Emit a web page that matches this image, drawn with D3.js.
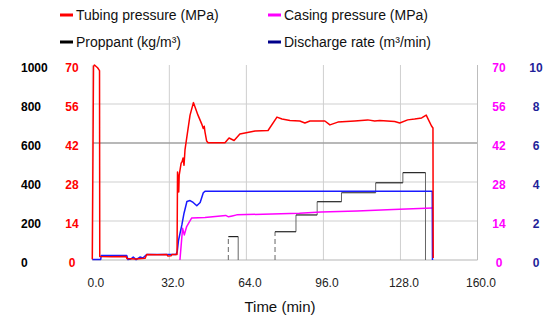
<!DOCTYPE html>
<html>
<head>
<meta charset="utf-8">
<style>
  body { margin: 0; background: #fff; }
  svg { font-family: 'Liberation Sans', Arial, sans-serif; }
</style>
</head>
<body>
<script src="https://d3js.org/d3.v7.min.js"></script>
<script>
// time (min) and tubing pressure (MPa)
const tubingT = [0, 0.5, 0.9, 2.2, 3.0, 3.1, 8, 14.0, 14.4, 18, 21.9, 22.6, 27, 30.9, 31.4, 32.7, 33.1, 35.2,
  35.4, 35.9, 36.1, 36.9, 37.3, 37.7, 38.1, 38.5, 39.4, 40.6, 42.0, 43.9, 45.6, 46.1, 46.5, 46.8, 47.5, 48.1,
  55.1, 56.8, 58.9, 61.3, 67.6, 73.0, 76.7, 78.8, 82.1, 86.2, 88.3, 90.4, 96.6, 98.7, 102.0, 109.0, 114.4,
  117.3, 119.4, 125.6, 127.7, 131.0, 133.9, 136.8, 138.7, 139.5, 140.9, 141.5, 141.6];
const tubingV = [0.3, 69.5, 70, 69, 68, 1.3, 1.2, 1.3, 0.5, 0.4, 0.6, 2.0, 1.9, 2.0, 1.4, 1.5, 2.0, 2.0,
  31.6, 24.4, 30.5, 34.8, 35.3, 36.6, 34, 39.5, 44.9, 52, 56.5, 52, 48.5, 47.2, 48.0, 46, 42.7, 42.1,
  42.1, 43.8, 42.9, 45.2, 46.3, 46.5, 51.3, 50.6, 50.1, 49.9, 49.2, 49.9, 49.9, 48.5, 49.5, 49.9, 50.3,
  49.9, 50.1, 49.7, 49.2, 50.3, 50.6, 51, 52, 50.6, 48.1, 47.4, 0.7];

// casing pressure (MPa)
const casingT = [36.4, 37.5, 38.2, 39.2, 40.2, 41.3, 46.8, 55.4, 56.6, 58.1, 60, 86, 95, 110, 125, 141.3];
const casingV = [0, 11.4, 9.0, 12.0, 13.5, 15.1, 15.3, 16.0, 15.5, 15.8, 16.2, 16.8, 17.2, 17.6, 18.1, 18.7];

// discharge rate (m3/min)
const rateT = [0, 3.5, 3.7, 14.3, 14.8, 16.0, 17.0, 18.2, 19.8, 21.0, 22.6, 34.8, 35.3, 35.8, 37.2, 38.1,
  39.3, 40.6, 41.9, 43.4, 44.8, 46.1, 46.8, 141.2, 141.3];
const rateV = [0.03, 0.03, 0.23, 0.23, 0.03, 0.05, 0.15, 0.02, 0.15, 0.1, 0.28, 0.28, 0.45, 1.0, 1.8, 2.4,
  3.0, 3.05, 2.95, 2.78, 2.95, 3.45, 3.52, 3.52, 0];

// proppant concentration steps (kg/m3)
const propStart = [56.5, 75.9, 84.6, 93.4, 103.5, 117.7, 129.0];
const propEnd = [60.6, 84.6, 93.4, 103.5, 117.7, 129.0, 138.4];
const propLevel = [120, 145, 231, 299, 345, 396, 448];

const xTicks = [0, 32, 64, 96, 128, 160];
const propTicks = [0, 200, 400, 600, 800, 1000];
const pressTicks = [0, 14, 28, 42, 56, 70];
const rateTicks = [0, 2, 4, 6, 8, 10];

const legendItems = [
  { name: 'Tubing pressure (MPa)', color: '#ff0000' },
  { name: 'Casing pressure (MPa)', color: '#ff00ff' },
  { name: 'Proppant (kg/m³)', color: '#000000' },
  { name: 'Discharge rate (m³/min)', color: '#00008b' }
];

const width = 552, height = 323;
const svg = d3.select('body').append('svg')
  .attr('width', width)
  .attr('height', height);

const x = d3.scaleLinear().domain([0, 160]).range([92.3, 477.5]);
const yProp = d3.scaleLinear().domain([0, 1000]).range([260, 65]);
const yPress = d3.scaleLinear().domain([0, 70]).range([260, 65]);
const yRate = d3.scaleLinear().domain([0, 10]).range([260, 65]);

// grid
const grid = svg.append('g');
grid.selectAll('.vgrid')
  .data(xTicks.slice(1, -1))
  .join('line')
  .attr('x1', d => x(d)).attr('x2', d => x(d))
  .attr('y1', yProp(1000)).attr('y2', yProp(0))
  .attr('stroke', '#cfcfcf');
grid.selectAll('.hgrid')
  .data(propTicks.slice(1, -1))
  .join('line')
  .attr('x1', x(0)).attr('x2', x(160))
  .attr('y1', d => yProp(d)).attr('y2', d => yProp(d))
  .attr('stroke', d => d === 600 ? '#a0a0a0' : '#cfcfcf')
  .attr('stroke-width', d => d === 600 ? 1.6 : 1);
grid.append('line')
  .attr('x1', x(0)).attr('x2', x(0))
  .attr('y1', yProp(1000)).attr('y2', yProp(0))
  .attr('stroke', '#d6d6d6');
grid.append('line')
  .attr('x1', x(160)).attr('x2', x(160))
  .attr('y1', yProp(1000)).attr('y2', yProp(0))
  .attr('stroke', '#bdbdbd');
grid.append('line')
  .attr('x1', x(0)).attr('x2', x(160))
  .attr('y1', yProp(0)).attr('y2', yProp(0))
  .attr('stroke', '#b5b5b5');

// proppant steps
const horiz = [], vert = [];
propStart.forEach((s, i) => {
  const prevLevel = (i > 0 && propEnd[i - 1] === s) ? propLevel[i - 1] : 0;
  vert.push({ t: s, a: prevLevel, b: propLevel[i] });
  horiz.push({ t0: s, t1: propEnd[i], v: propLevel[i] });
  if (i === propStart.length - 1 || propStart[i + 1] !== propEnd[i]) {
    vert.push({ t: propEnd[i], a: propLevel[i], b: 0 });
  }
});
svg.append('g').selectAll('line')
  .data(vert)
  .join('line')
  .attr('x1', d => x(d.t)).attr('x2', d => x(d.t))
  .attr('y1', d => yProp(d.a)).attr('y2', d => yProp(d.b))
  .attr('stroke', '#666')
  .attr('stroke-width', 1)
  .attr('stroke-dasharray', d => d.a === 0 ? '5,3' : null);
svg.append('g').selectAll('line')
  .data(horiz)
  .join('line')
  .attr('x1', d => x(d.t0)).attr('x2', d => x(d.t1))
  .attr('y1', d => yProp(d.v)).attr('y2', d => yProp(d.v))
  .attr('stroke', '#222')
  .attr('stroke-width', 1.2);

function drawSeries(ts, vs, yScale, color) {
  const pts = ts.map((t, i) => [t, vs[i]]);
  svg.append('path')
    .datum(pts)
    .attr('fill', 'none')
    .attr('stroke', color)
    .attr('stroke-width', 1.5)
    .attr('stroke-linejoin', 'round')
    .attr('d', d3.line().x(d => x(d[0])).y(d => yScale(d[1])));
}

drawSeries(casingT, casingV, yPress, '#ff00ff');
drawSeries(rateT, rateV, yRate, '#1a1aff');
drawSeries(tubingT, tubingV, yPress, '#ff0000');

// axes
function valueAxis(scale, ticks, xPos, color, anchor) {
  const g = svg.append('g')
    .attr('transform', `translate(${xPos},3)`)
    .call(d3.axisRight(scale).tickValues(ticks).tickFormat(d3.format('d')).tickSize(0).tickPadding(0));
  g.select('.domain').remove();
  g.selectAll('text')
    .attr('fill', color)
    .attr('font-size', 12)
    .attr('font-weight', 'bold')
    .attr('font-family', "'Liberation Sans', Arial, sans-serif")
    .attr('text-anchor', anchor);
}
valueAxis(yProp, propTicks, 21, '#000', 'start');
valueAxis(yPress, pressTicks, 72, '#ff0000', 'middle');
valueAxis(yPress, pressTicks, 499, '#ff00ff', 'middle');
valueAxis(yRate, rateTicks, 536, '#1f1f99', 'middle');

const xAxis = svg.append('g')
  .attr('transform', `translate(3,${yProp(0)})`)
  .call(d3.axisBottom(x).tickValues(xTicks).tickFormat(d3.format('.1f')).tickSize(0).tickPadding(18));
xAxis.select('.domain').remove();
xAxis.selectAll('text')
  .attr('fill', '#222')
  .attr('font-size', 12)
  .attr('font-family', "'Liberation Sans', Arial, sans-serif");

svg.append('text')
  .attr('x', 280)
  .attr('y', 312)
  .attr('text-anchor', 'middle')
  .attr('font-size', 15)
  .attr('fill', '#111')
  .text('Time (min)');

// legend
const legend = svg.append('g').selectAll('g')
  .data(legendItems)
  .join('g')
  .attr('transform', (d, i) => `translate(${i % 2 === 0 ? 60 : 268},${i < 2 ? 15 : 42})`);
legend.append('line')
  .attr('x1', 0).attr('x2', 13)
  .attr('stroke', d => d.color)
  .attr('stroke-width', 3);
legend.append('text')
  .attr('x', 16)
  .attr('y', 5)
  .attr('font-size', 14)
  .attr('fill', '#111')
  .text(d => d.name);
</script>
</body>
</html>
